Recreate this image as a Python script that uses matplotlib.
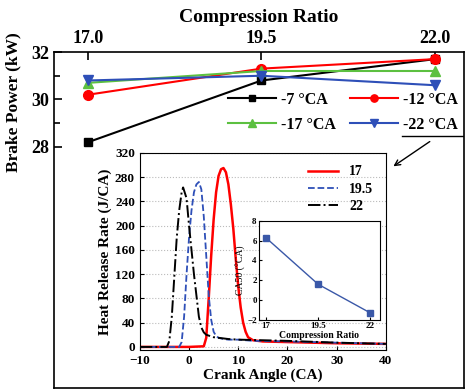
import matplotlib.pyplot as plt

plt.rcParams['font.family'] = 'Liberation Serif'
plt.rcParams['font.weight'] = 'bold'

# main plot: brake power vs compression ratio
cr = [17.0, 19.5, 22.0]
bp_7 = [28.2, 30.8, 31.7]
bp_12 = [30.2, 31.3, 31.7]
bp_17 = [30.7, 31.2, 31.2]
bp_22 = [30.8, 31.0, 30.6]

# heat release rate curves
ca_17 = [-10, 0, 3, 3.5, 4, 4.5, 5, 5.5, 6, 6.5, 7, 7.5, 8, 8.5, 9, 9.5, 10, 10.5, 11, 11.5, 12, 13, 15, 20, 30, 40]
hr_17 = [0, 0, 1, 15, 80, 150, 210, 255, 282, 293, 295, 288, 268, 235, 195, 145, 100, 65, 40, 25, 16, 11, 9, 8, 6, 5]
ca_195 = [-10, -2, -1.5, -1, -0.5, 0, 0.5, 1, 1.5, 2, 2.5, 3, 3.5, 4, 4.5, 5, 5.5, 6, 7, 8, 10, 13, 20, 30, 40]
hr_195 = [0, 0, 8, 50, 120, 180, 225, 255, 268, 272, 260, 215, 150, 85, 45, 25, 18, 15, 13, 12, 12, 10, 9, 7, 5]
ca_22 = [-10, -4.5, -4, -3.5, -3, -2.5, -2, -1.5, -1.2, -0.5, 0, 0.5, 1, 1.5, 2, 2.5, 3, 3.5, 5, 6, 8, 10, 15, 20, 30, 40]
hr_22 = [0, 0, 10, 50, 115, 180, 225, 255, 263, 245, 200, 160, 120, 85, 50, 32, 24, 20, 16, 15, 13, 12, 11, 10, 7, 5]

# CA50 inset
ca50 = [6.3, 1.6, -1.3]
cr_labels = ['17', '19.5', '22']

fig = plt.figure(figsize=(4.74, 3.91), dpi=100)

ax = fig.add_axes([0.114, 0.008, 0.865, 0.859])
l7, = ax.plot(cr, bp_7, '-s', color='black', ms=6, lw=1.5, label='-7 °CA')
l12, = ax.plot(cr, bp_12, '-o', color='red', ms=7, lw=1.5, label='-12 °CA')
l17, = ax.plot(cr, bp_17, '-^', color='#5cc040', mfc='#5cc040', ms=7, lw=1.5, label='-17 °CA')
l22, = ax.plot(cr, bp_22, '-v', color='#2e4fb8', ms=7, lw=1.5, label='-22 °CA')
ax.set_xlim(16.51, 22.42)
ax.set_ylim(17.85, 32)
ax.xaxis.tick_top()
ax.xaxis.set_label_position('top')
ax.set_xticks(cr)
ax.set_xticklabels(['17.0', '19.5', '22.0'])
ax.set_yticks([28, 30, 32])
ax.set_yticks([29, 31], minor=True)
ax.tick_params(axis='both', which='both', direction='in', labelsize=13)
ax.tick_params(which='major', length=6, width=1.2)
ax.tick_params(which='minor', length=4, width=1.2)
ax.set_xlabel('Compression Ratio', fontsize=14, fontweight='bold', labelpad=6)
ax.set_ylabel('Brake Power (kW)', fontsize=12.5, fontweight='bold')
ax.yaxis.set_label_coords(-0.08, 0.85)
for s in ax.spines.values():
    s.set_linewidth(1.2)
# legend filled column-wise, so order handles to get rows -7/-12 and -17/-22
leg = ax.legend([l7, l17, l12, l22], ['-7 °CA', '-17 °CA', '-12 °CA', '-22 °CA'],
                ncol=2, loc='upper right', bbox_to_anchor=(1.0, 0.9), frameon=False,
                fontsize=11.5, handlelength=3.0, columnspacing=0.9, handletextpad=0.3,
                labelspacing=0.55, borderaxespad=0.0, markerscale=0.75)
ax.plot([0.848, 0.997], [0.75, 0.75], color='black', lw=1, transform=ax.transAxes)
ax.annotate('', xy=(0.822, 0.655), xytext=(0.922, 0.738), xycoords='axes fraction',
            arrowprops=dict(arrowstyle='->', color='black', lw=1))

# heat release inset
ax1 = fig.add_axes([0.295, 0.105, 0.519, 0.504])
ax1.plot(ca_17, hr_17, '-', color='red', lw=1.8, label='17')
ax1.plot(ca_195, hr_195, '--', color='#2e4fb8', lw=1.3, label='19.5')
ax1.plot(ca_22, hr_22, '-.', color='black', lw=1.4, label='22')
ax1.set_xlim(-10, 40)
ax1.set_ylim(-5, 320)
ax1.set_yticks(range(0, 321, 40))
ax1.set_xticks(range(-10, 41, 10))
ax1.tick_params(direction='in', labelsize=9.5, length=3)
ax1.yaxis.grid(True, linestyle=':', color='#bbbbbb', lw=0.8)
ax1.set_xlabel('Crank Angle (CA)', fontsize=11, fontweight='bold', labelpad=1)
ax1.set_ylabel('Heat Release Rate (J/CA)', fontsize=11, fontweight='bold', labelpad=2)
ax1.legend(loc='upper right', frameon=False, fontsize=10, handlelength=2.2, labelspacing=0.3)

# CA50 inset
ax2 = fig.add_axes([0.546, 0.182, 0.255, 0.253])
ax2.plot(cr, ca50, '-s', color='#3a58a8', ms=4, lw=1)
ax2.set_xlim(16.66, 22.45)
ax2.set_ylim(-2, 8)
ax2.set_xticks(cr)
ax2.set_xticklabels(cr_labels)
ax2.set_yticks(range(-2, 9, 2))
ax2.tick_params(direction='in', labelsize=6.5, length=2, pad=1.5)
ax2.set_xlabel('Compression Ratio', fontsize=7, fontweight='bold', labelpad=0.5)
ax2.set_ylabel('CA50 (°CA)', fontsize=7, fontweight='normal', labelpad=1)

fig.savefig('out.png', dpi=100)
